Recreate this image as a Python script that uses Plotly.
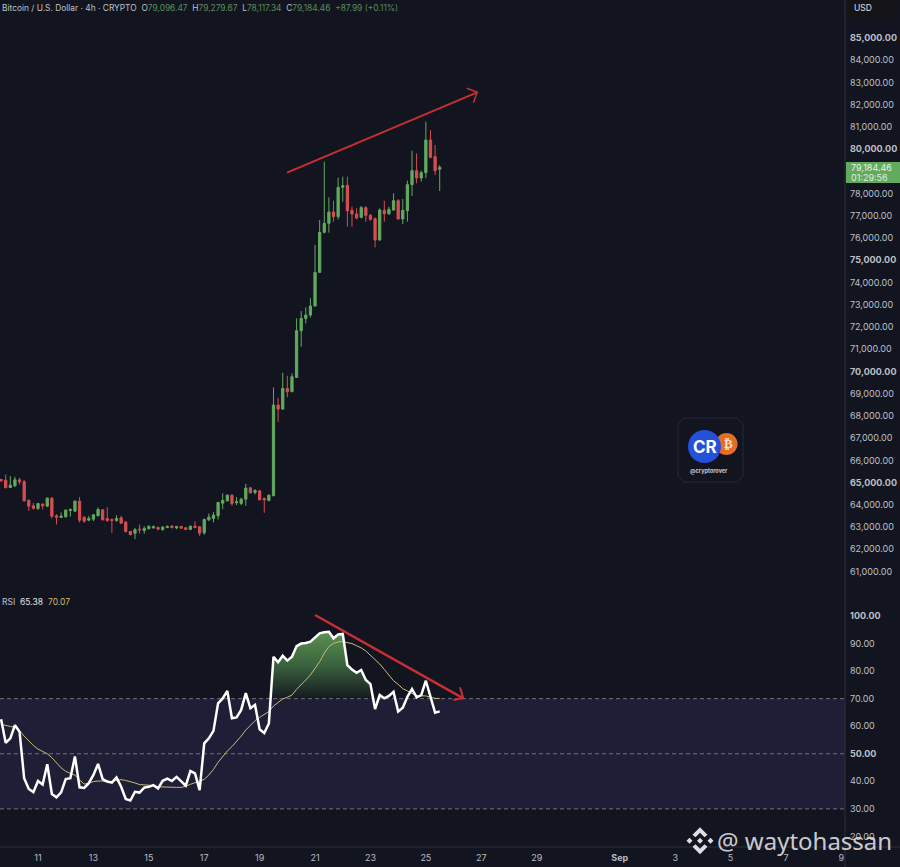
import pandas as pd
import numpy as np
import plotly.graph_objects as go

W, H = 900, 867

# 4h candles, Aug 9 16:00 onwards
dates = pd.date_range("2024-08-09 16:00", periods=96, freq="4h")

open_prices = [
    65142, 65112, 64782, 64857, 65127, 65037, 64212, 63957, 63837, 64032, 63942, 64302,
    63507, 63432, 63462, 63747, 63717, 64167, 63447, 63312, 63357, 63507, 63777, 63387,
    63342, 63297, 63417, 63222, 62802, 62727, 62907, 62847, 62937, 62967, 62982, 62892,
    62982, 63042, 62967, 63027, 62967, 62892, 63042, 63012, 62742, 63327, 63387, 63507,
    64077, 64182, 64437, 64092, 64062, 64257, 64767, 64557, 64632, 64287, 64197, 64407,
    68487, 68307, 69237, 69087, 69732, 71832, 72387, 72537, 72942, 74457, 76257, 76662,
    77172, 76962, 78282, 78372, 77247, 77082, 76932, 77367, 77022, 76872, 75912, 77247,
    77097, 77262, 77682, 76857, 77232, 78402, 79032, 78702, 78942, 80412, 79662, 79096.47,
]
high_prices = [
    65172, 65367, 65292, 65262, 65217, 65127, 64212, 64092, 64092, 64062, 64332, 64347,
    63582, 63657, 63792, 63837, 64197, 64347, 63492, 63507, 63582, 63882, 63807, 63897,
    63387, 63537, 63507, 63267, 62832, 62967, 63117, 63042, 63087, 63072, 63027, 63042,
    63072, 63087, 63057, 63057, 62997, 63057, 63267, 63042, 63387, 63612, 63672, 64137,
    64512, 64467, 64467, 64347, 64317, 64947, 64797, 64707, 64662, 64332, 64467, 69282,
    68817, 69942, 69807, 69912, 72387, 72717, 72882, 73287, 75687, 76812, 79437, 77832,
    77682, 78717, 78762, 78762, 77412, 77337, 77442, 77442, 77082, 76932, 77337, 77682,
    77412, 78012, 77757, 77757, 78582, 79932, 79812, 79032, 81237, 80862, 80187, 79279.67,
]
low_prices = [
    65037, 64767, 64767, 64812, 64917, 64137, 63732, 63792, 63762, 63792, 63912, 63387,
    63117, 63417, 63432, 63462, 63672, 63207, 63192, 63267, 63267, 63492, 63297, 63237,
    62742, 63237, 63147, 62757, 62622, 62457, 62712, 62697, 62877, 62922, 62862, 62832,
    62952, 62937, 62907, 62922, 62862, 62862, 62937, 62607, 62652, 63267, 63207, 63342,
    63807, 64152, 63957, 63987, 63987, 63957, 64512, 64467, 64197, 63642, 64167, 64407,
    67737, 68307, 68832, 69087, 69732, 71112, 72162, 72432, 72942, 74457, 76212, 76242,
    76737, 76842, 77637, 76512, 76512, 76842, 76887, 76737, 76782, 75582, 75882, 76737,
    77037, 77232, 76842, 76632, 76737, 77892, 78462, 78537, 78687, 79587, 78837, 78117.34,
]
close_prices = [
    65082, 64767, 64887, 65127, 65037, 64182, 63942, 63837, 64062, 63957, 64302, 63492,
    63447, 63492, 63762, 63792, 64167, 63312, 63267, 63387, 63552, 63792, 63327, 63297,
    63297, 63387, 63177, 62802, 62667, 62877, 62877, 62937, 63027, 63012, 62907, 62997,
    63027, 62982, 63027, 62952, 62892, 63042, 62982, 62727, 63342, 63447, 63537, 64107,
    64197, 64437, 64062, 64137, 64257, 64752, 64542, 64647, 64227, 64227, 64437, 68487,
    68307, 69237, 69087, 69762, 71832, 72387, 72537, 72942, 74457, 76257, 76662, 77172,
    76962, 78282, 78357, 77232, 77082, 76902, 77367, 77022, 76842, 75912, 77262, 77097,
    77292, 77682, 76857, 77247, 78402, 79032, 78702, 78942, 80412, 79632, 79032, 79184.46,
]

rsi_values = [
    62.5, 54.0, 55.6, 60.4, 58.0, 41.1, 37.2, 36.1, 40.1, 38.8, 46.2, 35.4,
    34.2, 36.0, 40.8, 41.1, 49.0, 37.8, 37.6, 39.3, 42.3, 46.3, 40.8, 39.9,
    39.5, 41.4, 38.0, 33.6, 33.0, 36.2, 35.9, 37.7, 38.0, 38.6, 37.4, 40.2,
    41.0, 40.1, 41.6, 39.9, 38.4, 43.7, 42.9, 36.8, 53.8, 55.6, 58.3, 68.3,
    70.1, 72.8, 62.9, 63.2, 65.9, 72.0, 66.5, 67.7, 58.9, 57.5, 61.0, 85.2,
    83.2, 85.6, 83.8, 85.2, 89.1, 90.0, 90.2, 90.7, 92.3, 93.7, 94.1, 94.3,
    91.9, 93.3, 93.5, 82.2, 80.6, 79.4, 80.4, 76.8, 75.3, 66.2, 71.3, 70.1,
    71.0, 72.5, 65.3, 66.7, 70.7, 73.5, 70.5, 71.3, 76.5, 70.5, 64.9, 65.38,
]
rsi_ma_values = [
    60.7, 60.2, 59.9, 59.6, 58.3, 56.4, 54.7, 53.0, 51.7, 50.7, 50.0, 48.6,
    46.6, 44.9, 43.6, 42.9, 42.2, 40.5, 39.0, 39.3, 39.9, 40.1, 40.1, 39.7,
    40.0, 40.5, 40.6, 40.3, 39.9, 39.4, 38.8, 38.7, 38.7, 38.5, 38.0, 37.9,
    37.9, 37.8, 37.8, 37.8, 38.2, 38.9, 39.5, 39.9, 40.7, 42.3, 44.3, 46.9,
    49.1, 51.0, 52.6, 54.4, 56.4, 58.6, 60.4, 62.0, 63.2, 64.1, 65.3, 67.3,
    68.5, 69.9, 70.5, 71.3, 73.4, 75.0, 76.8, 78.6, 81.0, 83.4, 86.5, 88.9,
    90.1, 90.6, 90.7, 90.3, 90.0, 89.2, 88.4, 87.3, 85.8, 84.3, 82.6, 80.6,
    78.6, 76.5, 75.2, 73.6, 72.8, 71.9, 71.1, 71.0, 71.0, 70.5, 70.1, 70.07,
]

# 79,000 sits behind the last price box, so it has no label
price_ticks = [p for p in range(61000, 86000, 1000) if p != 79000]
rsi_ticks = [20, 30, 40, 50, 60, 70, 80, 90, 100]
rsi_bold = [50, 100]
x_tick_dates = ["2024-08-11", "2024-08-13", "2024-08-15", "2024-08-17", "2024-08-19", "2024-08-21",
                "2024-08-23", "2024-08-25", "2024-08-27", "2024-08-29", "2024-09-01", "2024-09-03",
                "2024-09-05", "2024-09-07", "2024-09-09"]
x_tick_labels = ["11", "13", "15", "17", "19", "21", "23", "25", "27", "29", "<b>Sep</b>", "3", "5", "7", "9"]

BG = "rgb(18,21,32)"
BAND = "rgb(30,31,54)"
GREEN = "rgb(98,170,94)"
RED = "rgb(214,78,82)"
ARROW = "rgb(200,46,50)"
AXIS = "rgb(44,47,58)"
FONT = "Inter"
X_RANGE = ["2024-08-09 15:04", "2024-09-09 03:07"]


# drawings and panels are placed in page pixels
def px(x, y):
    return x / W, 1 - y / H


def poly(points, close=False):
    parts = []
    for i, (x, y) in enumerate(points):
        a, b = px(x, y)
        parts.append(("M" if i == 0 else "L") + f"{a:.5f},{b:.5f}")
    return " ".join(parts) + (" Z" if close else "")


def circle(cx, cy, r, color):
    x0, y0 = px(cx - r, cy - r)
    x1, y1 = px(cx + r, cy + r)
    return dict(type="circle", xref="paper", yref="paper", x0=x0, x1=x1, y0=y0, y1=y1,
                fillcolor=color, line_width=0, layer="above")


def path(points, color=None, fill=None, width=2, close=False):
    return dict(type="path", xref="paper", yref="paper", path=poly(points, close),
                fillcolor=fill, line=dict(color=color, width=width if color else 0), layer="above")


def label(x, y, text, size=9, color="rgb(190,192,198)", anchor="left", family=FONT):
    a, b = px(x, y)
    return dict(xref="paper", yref="paper", x=a, y=b, text=text, showarrow=False, xanchor=anchor,
                yanchor="middle", font=dict(size=size, color=color, family=family), borderpad=0, borderwidth=0)


fig = go.Figure()

fig.add_trace(go.Candlestick(
    x=dates, open=open_prices, high=high_prices, low=low_prices, close=close_prices,
    xaxis="x2", yaxis="y2",
    increasing=dict(line=dict(color=GREEN, width=1), fillcolor=GREEN),
    decreasing=dict(line=dict(color=RED, width=1), fillcolor=RED),
    whiskerwidth=0, showlegend=False,
))

# green area above the 70 line
fill_x = dates[58:82]
fill_y = np.maximum(rsi_values[58:82], 70)
fig.add_trace(go.Scatter(
    x=fill_x, y=fill_y, mode="lines", line=dict(width=0), fill="toself",
    fillgradient=dict(type="vertical",
                      colorscale=[[0, "rgba(60,100,60,0.05)"], [0.5, "rgb(58,98,62)"], [1, "rgb(92,146,82)"]]),
    showlegend=False,
))
fig.add_trace(go.Scatter(x=dates, y=rsi_ma_values, mode="lines",
                         line=dict(color="rgb(205,185,115)", width=1), showlegend=False))
fig.add_trace(go.Scatter(x=dates, y=rsi_values, mode="lines",
                         line=dict(color="white", width=2.5), showlegend=False))

shapes = [
    dict(type="rect", xref="x domain", yref="y", x0=0, x1=1, y0=30, y1=70,
         fillcolor=BAND, line_width=0, layer="below"),
]
for level in [70, 50, 30]:
    shapes.append(dict(type="line", xref="x domain", yref="y", x0=0, x1=1, y0=level, y1=level,
                       line=dict(color="rgb(112,114,124)", width=1, dash="4px,3px"), layer="below"))

# hand drawn arrows
shapes.append(path([(287, 172.7), (477.3, 92.3)], ARROW, width=2))
shapes.append(path([(466.7, 88.3), (477.3, 92.3), (473.3, 102.7)], ARROW, width=1.5))
shapes.append(path([(315, 615), (463.3, 698.3)], ARROW, width=2.5))
shapes.append(path([(460, 687.3), (463.3, 698.3), (453.3, 700)], ARROW, width=2))

# price boxes on the axis
shapes.append(path([(848, 0), (897, 0), (897, 17), (848, 17)], None, "rgb(20,20,23)", close=True))
shapes.append(path([(846, 162), (900, 162), (900, 183), (846, 183)], None, GREEN, close=True))

# logo card
shapes.append(path([(684, 418), (737, 418), (743, 424), (743, 476), (737, 482), (684, 482), (678, 476), (678, 424)],
                   "rgb(38,41,52)", None, width=1, close=True))
shapes.append(circle(726.5, 444, 11, "rgb(226,110,40)"))
shapes.append(circle(704.5, 446.5, 16.5, "rgb(36,80,218)"))

# watermark icon
WM = "rgb(222,222,226)"
cx, cy = 700, 840.7
for dx, dy in [(0, 0), (-10.5, 0), (10.5, 0)]:
    shapes.append(path([(cx + dx, cy + dy - 3), (cx + dx + 3, cy + dy), (cx + dx, cy + dy + 3), (cx + dx - 3, cy + dy)],
                       None, WM, close=True))
shapes.append(path([(cx, cy - 13.5), (cx + 7.5, cy - 6), (cx + 4.5, cy - 3.5), (cx, cy - 8), (cx - 4.5, cy - 3.5), (cx - 7.5, cy - 6)],
                   None, WM, close=True))
shapes.append(path([(cx, cy + 13.5), (cx + 7.5, cy + 6), (cx + 4.5, cy + 3.5), (cx, cy + 8), (cx - 4.5, cy + 3.5), (cx - 7.5, cy + 6)],
                   None, WM, close=True))

ohlc_green = "rgb(92,140,92)"
header = ("<span style='color:rgb(190,192,198)'>Bitcoin / U.S. Dollar · 4h · CRYPTO  O</span>"
          f"<span style='color:{ohlc_green}'>79,096.47</span>  H<span style='color:{ohlc_green}'>79,279.67</span>"
          f"  L<span style='color:{ohlc_green}'>78,117.34</span>  C<span style='color:{ohlc_green}'>79,184.46</span>"
          f"  <span style='color:{ohlc_green}'>+87.99 (+0.11%)</span>")

annotations = [
    label(2, 8.5, header, size=8.4),
    label(2, 601.5, "RSI", size=8.5),
    label(20, 601.5, "65.38", size=8.5, color="rgb(225,225,228)"),
    label(47.5, 601.5, "70.07", size=8.5, color="rgb(205,185,115)"),
    label(854, 8.5, "USD", size=8.5, color="rgb(225,225,228)"),
    label(851, 168, "79,184.46", size=9, color="rgb(232,242,230)"),
    label(851, 177, "01:29:56", size=9, color="rgb(225,238,222)"),
    label(704.5, 446.5, "<b>CR</b>", size=17, color="white", anchor="center"),
    label(728, 444, "<b>₿</b>", size=13, color="rgb(250,225,200)", anchor="center", family="DejaVu Sans"),
    label(709, 471.5, "<b>@cryptorover</b>", size=5.5, color="rgb(200,200,205)", anchor="center"),
    label(717, 840, "@ waytohassan", size=24, color="rgba(225,225,230,0.9)", family="Noto Sans"),
]

price_labels = [f"<b>{p:,.2f}</b>" if p % 5000 == 0 else f"{p:,.2f}" for p in price_ticks]
rsi_labels = [f"<b>{v:.2f}</b>" if v in rsi_bold else f"{v:.2f}" for v in rsi_ticks]

fig.update_layout(
    width=W, height=H, autosize=False,
    margin=dict(l=0, r=0, t=0, b=0),
    paper_bgcolor=BG, plot_bgcolor=BG,
    showlegend=False,
    shapes=shapes, annotations=annotations,
    xaxis=dict(domain=[0, 845 / W], range=X_RANGE, type="date", anchor="y", showgrid=False, zeroline=False,
               tickmode="array", tickvals=x_tick_dates, ticktext=x_tick_labels, ticks="",
               ticklabelstandoff=4,
               tickfont=dict(size=9, color="rgb(185,187,193)", family=FONT),
               showline=False),
    yaxis=dict(domain=[20 / H, 277 / H], range=[16.15, 109.44], side="right", anchor="x", showgrid=False,
               zeroline=False, tickmode="array", tickvals=rsi_ticks, ticktext=rsi_labels, ticks="",
               ticklabelstandoff=4,
               tickfont=dict(size=9, color="rgb(190,192,198)", family=FONT), showline=False),
    xaxis2=dict(domain=[0, 845 / W], matches="x", anchor="y2", showgrid=False, zeroline=False,
                showticklabels=False, rangeslider=dict(visible=False), showline=False),
    yaxis2=dict(domain=[277 / H, 1], range=[60170, 86709], side="right", anchor="x2", showgrid=False,
                zeroline=False, tickmode="array", tickvals=price_ticks, ticktext=price_labels, ticks="",
                ticklabelstandoff=4,
                tickfont=dict(size=9, color="rgb(190,192,198)", family=FONT), showline=False),
)

# axis frame lines
fig.add_shape(type="line", xref="paper", yref="paper", x0=845 / W, x1=845 / W, y0=0, y1=1,
              line=dict(color=AXIS, width=1), layer="below")
fig.add_shape(type="line", xref="paper", yref="paper", x0=0, x1=1, y0=20 / H, y1=20 / H,
              line=dict(color=AXIS, width=1), layer="below")

fig.write_html("out.html", config={"displayModeBar": False}, post_script="document.body.style.margin='0';")
